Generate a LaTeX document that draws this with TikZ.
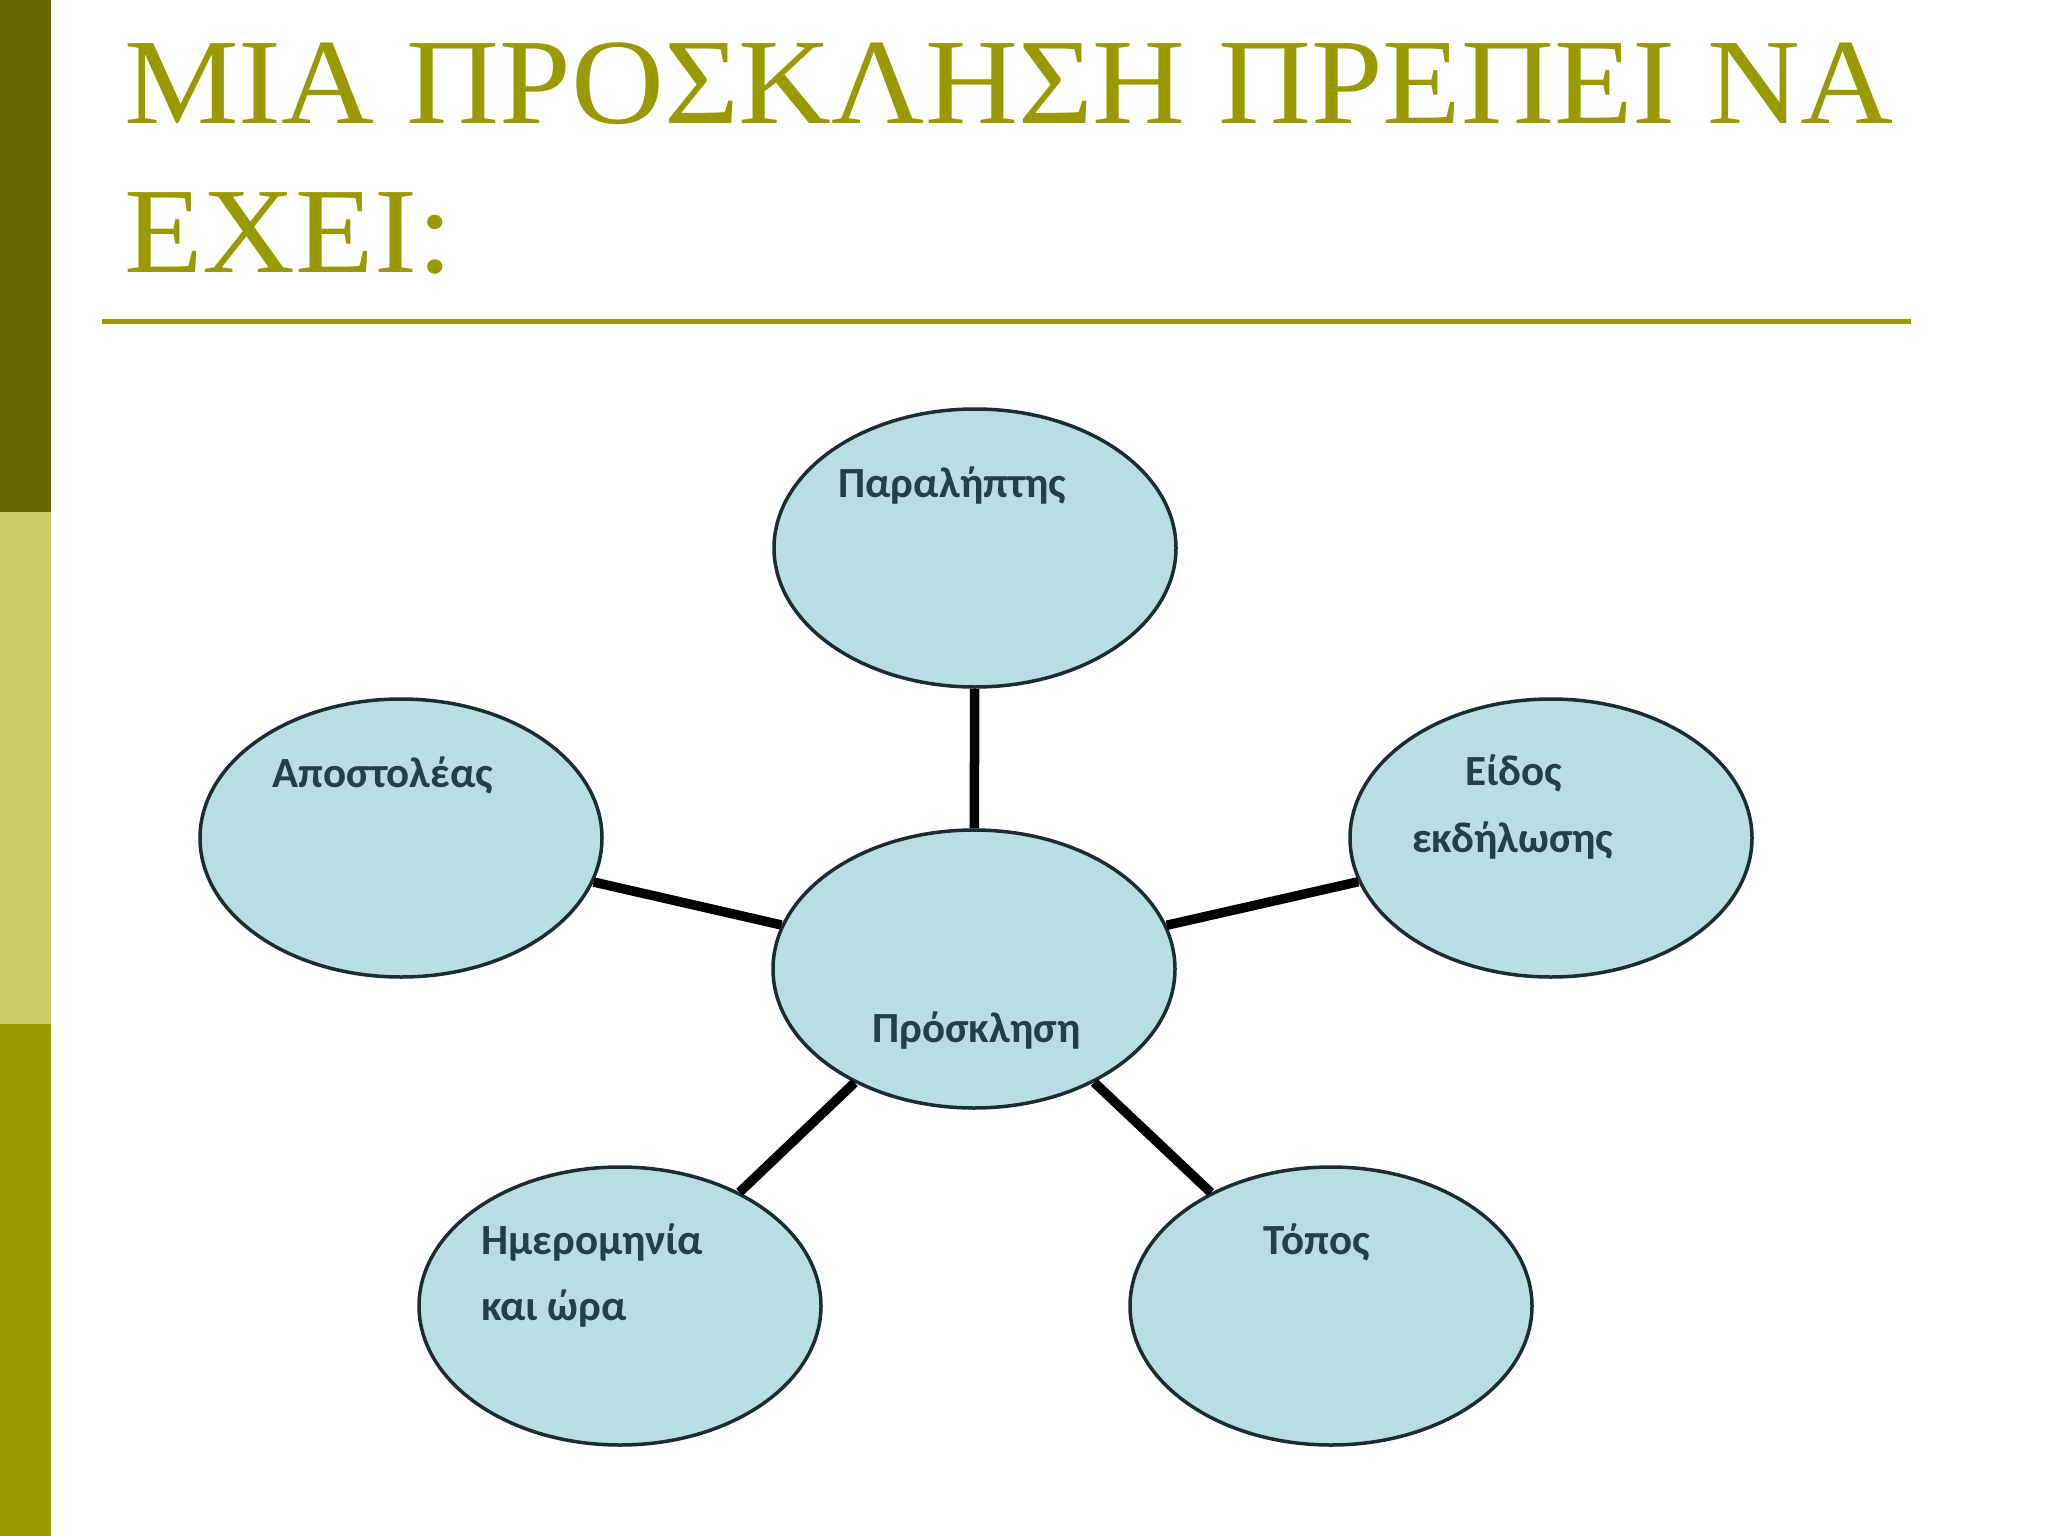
\documentclass[tikz,border=0pt]{standalone}
\usepackage{fontspec}
\usetikzlibrary{shapes.geometric}
\newfontfamily\titlefont[FakeStretch=1.055]{Liberation Serif}
\newfontfamily\labfont{Carlito}
\definecolor{darkolive}{HTML}{666600}
\definecolor{lightolive}{HTML}{CCCC66}
\definecolor{olive}{HTML}{999900}
\definecolor{bubblefill}{HTML}{B8DDE2}
\definecolor{bordercol}{HTML}{1C2C33}
\definecolor{labcol}{HTML}{22404A}
\begin{document}
\begin{tikzpicture}[x=1pt,y=-1pt,
  bubble/.style={ellipse, draw=bordercol, line width=3.5pt, fill=bubblefill,
    minimum width=402pt, minimum height=278pt, inner sep=0pt},
  lab/.style={font=\labfont\bfseries\fontsize{43}{52}\selectfont, text=labcol, anchor=base west, inner sep=0pt},
  ttl/.style={font=\titlefont\fontsize{122}{146}\selectfont, text=olive, anchor=base west, inner sep=0pt},
  link/.style={line width=9.5pt, draw=black}]
\useasboundingbox (0,0) rectangle (2048,1536);
\fill[white] (0,0) rectangle (2048,1536);
\fill[darkolive] (0,0) rectangle (51,512);
\fill[lightolive] (0,512) rectangle (51,1024);
\fill[olive] (0,1024) rectangle (51,1536);
\node[ttl] (t1) at (124,124) {ΜΙΑ ΠΡΟΣΚΛΗΣΗ ΠΡΕΠΕΙ ΝΑ};
\node[ttl] (t2) at (124,272) {ΕΧΕΙ:};
\coordinate (r1) at (102,321);
\coordinate (r2) at (1911,321);
\draw[olive, line width=5pt] (r1) -- (r2);

\node[bubble] (par) at (975,548) {};
\node[bubble] (apo) at (401,838) {};
\node[bubble] (eid) at (1551,838) {};
\node[bubble] (pro) at (974,969) {};
\node[bubble] (hme) at (620,1306) {};
\node[bubble] (top) at (1331,1306) {};

\draw[link] (pro) -- (par);
\draw[link] (pro) -- (apo);
\draw[link] (pro) -- (eid);
\draw[link] (pro) -- (hme);
\draw[link] (pro) -- (top);

\node[lab] (lpar) at (838,497) {Παραλήπτης};
\node[lab] (lapo) at (272,787) {Αποστολέας};
\node[lab] (leid1) at (1465,785) {Είδος};
\node[lab] (leid2) at (1412,852) {εκδήλωσης};
\node[lab] (lpro) at (872,1042) {Πρόσκληση};
\node[lab] (lhme1) at (481,1254) {Ημερομηνία};
\node[lab] (lhme2) at (481,1320) {και ώρα};
\node[lab] (ltop) at (1263,1254) {Τόπος};
\end{tikzpicture}
\end{document}
